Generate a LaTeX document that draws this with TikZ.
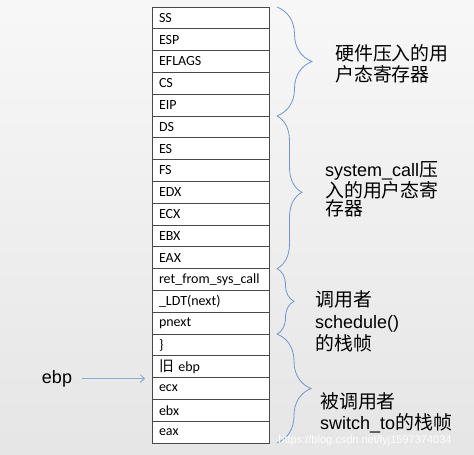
\documentclass[tikz,border=0pt]{standalone}
\usepackage{fontspec}
\setmainfont{Liberation Sans}
\newfontfamily\cjk[Scale=1.05]{Noto Sans CJK SC}
\newfontfamily\cellfont{Carlito}
\definecolor{braceblue}{RGB}{112,150,204}
\definecolor{arrowblue}{RGB}{140,170,212}
\definecolor{framegray}{RGB}{72,72,72}
\usepackage{tikz}
\usetikzlibrary{positioning,arrows.meta,decorations.pathreplacing}

\begin{document}
\begin{tikzpicture}[x=1pt, y=-1pt,
    cell/.style={draw=framegray, line width=0.9pt, fill=white, outer sep=0pt,
        minimum height=21.8pt, text width=103pt, inner xsep=7pt, inner ysep=0pt,
        align=left, font=\cellfont\fontsize{14}{16}\selectfont},
    curly/.style={draw=braceblue, line width=0.8pt, decorate,
        decoration={brace, amplitude=#1}},
    lbl/.style={anchor=west, align=left, inner sep=0pt,
        font=\fontsize{18}{21.5}\selectfont},
    ptr/.style={draw=arrowblue, line width=0.9pt, -{Straight Barb[length=4pt,width=8pt]}}
]
    % page
    \shade[top color=black!3, bottom color=black!10] (0,0) rectangle (474,455);
    \useasboundingbox (0,0) rectangle (474,455);

    % stack
    \node[cell, anchor=north west] (r1) at (152,7) {SS};
    \foreach \lbl [count=\i from 2, remember=\i as \j (initially 1)] in
        {ESP, EFLAGS, CS, EIP, DS, ES, FS, EDX, ECX, EBX, EAX,
         ret\_from\_sys\_call, \_LDT(next), pnext, \}, {{\cjk 旧} ebp}, ecx, ebx, eax}
        \node[cell, below=0pt of r\j] (r\i) {\lbl};

    % braces
    \draw[curly=35pt] ([xshift=8pt]r1.north east) -- ([xshift=8pt]r5.south east);
    \draw[curly=25pt] ([xshift=8pt]r6.north east) -- ([xshift=8pt]r12.south east);
    \draw[curly=17pt] ([xshift=8pt]r13.north east) -- ([xshift=8pt]r16.north east);
    \draw[curly=34pt] ([xshift=8pt]r16.north east) -- ([xshift=8pt]r20.south east);

    % labels
    \node[lbl, font=\cjk\fontsize{18}{21.5}\selectfont] (hwlbl) at (335,64) {硬件压入的用\\户态寄存器};
    \node[lbl, font=\fontsize{18}{18}\selectfont] (syslbl) at (325,189) {system\_call{\cjk 压}\\{\cjk 入的用户态寄}\\{\cjk 存器}};
    \node[lbl, font=\fontsize{18}{22}\selectfont] (schedlbl) at (315,321) {{\cjk 调用者}\\schedule()\\{\cjk 的栈帧}};
    \node[lbl] (switchlbl) at (320,413) {{\cjk 被调用者}\\switch\_to{\cjk 的栈帧}};

    % ebp
    \node[font=\fontsize{18}{21}\selectfont] (ebp) at (57,378.5) {ebp};
    \draw[ptr, shorten <=6pt] (ebp.east) -- ([xshift=-7pt]ebp.east -| r17.north west);

    % watermark
    \node[text=white, opacity=0.9, font=\fontsize{11}{13}\selectfont] (wmark) at (365,441) {https://blog.csdn.net/lyj1597374034};
\end{tikzpicture}
\end{document}
